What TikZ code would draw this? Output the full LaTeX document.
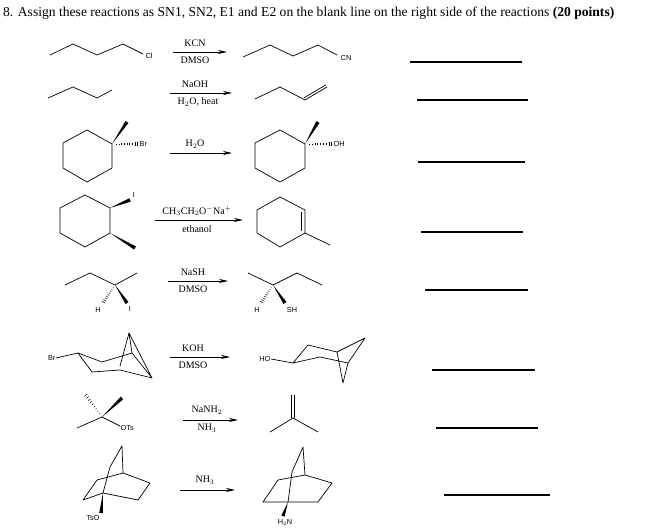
\documentclass[tikz,border=0pt]{standalone}
\usepackage{fontspec}
\setmainfont{Liberation Serif}
\newfontfamily\atomfont{Liberation Sans}
\usetikzlibrary{arrows.meta,calc}

% bond helpers
\newcommand{\wdg}[2]{\fill ($(#1)$) -- ($(#2)!1.8pt!90:(#1)$) -- ($(#2)!1.8pt!-90:(#1)$) -- cycle;}
\newcommand{\hsh}[2]{\foreach \t in {0.15,0.25,...,1.0} {\draw[line width=0.5pt] ($(#1)!\t!(#2)!{\t*1.9pt}!90:(#2)$) -- ($(#1)!\t!(#2)!{\t*1.9pt}!-90:(#2)$);}}

\begin{document}
\begin{tikzpicture}[x=1pt,y=-1pt,
    bond/.style={line width=0.7pt, line join=round},
    atom/.style={font=\atomfont\fontsize{7.3}{8}\selectfont, inner sep=0.5pt},
    reagent/.style={font=\fontsize{10}{11}\selectfont, inner sep=0.5pt},
    rxn/.style={line width=0.7pt, -{Stealth[length=9pt,width=4pt]}},
    blank/.style={line width=1.7pt}
]
\useasboundingbox (0,0) rectangle (659,532);

\node[anchor=west, font=\fontsize{13.6}{15}\selectfont, inner sep=0] (title) at (3,13)
  {8. Assign these reactions as SN1, SN2, E1 and E2 on the blank line on the right side of the reactions \textbf{(20 points)}};

% row 1
\draw[bond] (50,55) -- (73,44) -- (97,55) -- (123,44) -- (143,54);
\node[atom] (cl) at (149,56) {Cl};
\coordinate (a1s) at (173,52); \coordinate (a1e) at (227,52);
\draw[rxn] (a1s) -- (a1e);
\node[reagent] (kcn) at (195,43) {KCN};
\node[reagent] (dmso1) at (195,60) {DMSO};
\draw[bond] (243,57) -- (270,45) -- (293,56) -- (318,45) -- (337,55);
\node[atom] (cn) at (346,58) {CN};

% row 2
\draw[bond] (48,98) -- (73,87) -- (97,98) -- (112,90);
\coordinate (a2s) at (170,93); \coordinate (a2e) at (232,93);
\draw[rxn] (a2s) -- (a2e);
\node[reagent] (naoh) at (195,84) {NaOH};
\node[reagent] (heat) at (198,102) {H$_2$O, heat};
\draw[bond] (255,99) -- (280,87) -- (305,100) -- (327,87);
\draw[bond] ($(305,100)!2.4pt!90:(327,87)$) -- ($(327,87)!2.4pt!-90:(305,100)$);

% row 3
\draw[bond] (63,143) -- (87,130) -- (112,144) -- (112,168) -- (87,182) -- (63,168) -- cycle;
\wdg{112,144}{127,122}
\hsh{112,144}{139,144}
\node[atom, anchor=west] (br1) at (139,144) {Br};
\coordinate (a3s) at (170,153); \coordinate (a3e) at (232,153);
\draw[rxn] (a3s) -- (a3e);
\node[reagent] (h2o) at (195,144) {H$_2$O};
\draw[bond] (255,143) -- (280,130) -- (305,144) -- (305,168) -- (280,182) -- (255,168) -- cycle;
\wdg{305,144}{318,122}
\hsh{305,144}{333,144}
\node[atom, anchor=west] (oh1) at (333,144) {OH};

% row 4
\draw[bond] (60,208) -- (85,195) -- (110,208) -- (110,233) -- (85,247) -- (60,233) -- cycle;
\wdg{110,208}{130,200}
\node[atom] (iod1) at (134,195) {I};
\wdg{110,233}{135,248}
\coordinate (a4s) at (155,220); \coordinate (a4e) at (243,220);
\draw[rxn] (a4s) -- (a4e);
\node[reagent] (etox) at (197,211) {CH$_3$CH$_2$O$^-$Na$^+$};
\node[reagent] (etoh) at (197,229) {ethanol};
\draw[bond] (257,210) -- (280,197) -- (305,210) -- (305,233) -- (280,247) -- (257,233) -- cycle;
\draw[bond] (301,212) -- (301,231);
\draw[bond] (305,233) -- (330,245);

% row 5
\draw[bond] (65,285) -- (90,273) -- (115,285) -- (137,273);
\hsh{115,285}{103,303}
\node[atom] (h1) at (98,310) {H};
\wdg{115,285}{127,303}
\node[atom] (iod2) at (130,309) {I};
\coordinate (a5s) at (168,281); \coordinate (a5e) at (228,281);
\draw[rxn] (a5s) -- (a5e);
\node[reagent] (nash) at (193,272) {NaSH};
\node[reagent] (dmso2) at (193,289) {DMSO};
\draw[bond] (248,273) -- (273,285) -- (297,273) -- (322,285);
\hsh{273,285}{261,303}
\node[atom] (h2) at (257,310) {H};
\wdg{273,285}{285,303}
\node[atom] (sh) at (292,310) {SH};

% row 6
\node[atom, anchor=east] (br2) at (56,358) {Br};
\draw[bond] (56,358) -- (78,353);
\draw[bond] (78,353) -- (102,362) -- (132,353) -- (152,378) -- (129,333) -- (132,353);
\draw[bond] (78,353) -- (92,372) -- (120,370) -- (152,378);
\draw[bond] (129,333) -- (120,366);
\coordinate (a6s) at (170,357); \coordinate (a6e) at (230,357);
\draw[rxn] (a6s) -- (a6e);
\node[reagent] (koh) at (193,348) {KOH};
\node[reagent] (dmso3) at (193,365) {DMSO};
\node[atom, anchor=east] (ho) at (271,359) {HO};
\draw[bond] (271,359) -- (293,363);
\draw[bond] (293,363) -- (308,345) -- (337,352) -- (365,338) -- (348,363) -- (320,357) -- (293,363);
\draw[bond] (337,352) -- (343,383) -- (348,363);

% row 7
\draw[bond] (77,428) -- (102,417) -- (120,426);
\node[atom, anchor=west] (ots) at (120,428) {OTs};
\wdg{102,417}{122,398}
\hsh{102,417}{85,394}
\coordinate (a7s) at (183,420); \coordinate (a7e) at (238,420);
\draw[rxn] (a7s) -- (a7e);
\node[reagent] (nanh2) at (207,410) {NaNH$_2$};
\node[reagent] (nh3a) at (207,428) {NH$_3$};
\draw[bond] (270,432) -- (293,418) -- (318,432);
\draw[bond] (291.5,418) -- (291.5,395);
\draw[bond] (294.5,418) -- (294.5,395);

% row 8
\draw[bond] (103,493) -- (110,467) -- (122,446) -- (123,473) -- (150,483) -- (138,500) -- (103,493);
\draw[bond] (123,473) -- (97,480) -- (83,500) -- (103,493);
\wdg{103,493}{101,513}
\node[atom] (tso) at (93,518) {TsO};
\coordinate (a8s) at (180,490); \coordinate (a8e) at (235,490);
\draw[rxn] (a8s) -- (a8e);
\node[reagent] (nh3b) at (205,480) {NH$_3$};
\draw[bond] (288,502) -- (292,472) -- (303,447) -- (305,475) -- (332,483) -- (318,502) -- (288,502);
\draw[bond] (305,475) -- (278,480) -- (263,502) -- (288,502);
\wdg{288,502}{283,516}
\node[atom] (h2n) at (285,522) {H$_2$N};

% answer lines
\foreach \ya/\xa/\xb [count=\i] in {62/410/522, 100/417/528, 162/418/525, 232/421/523, 290/425/528, 370/432/535, 428/436/538, 495/444/550}
  \draw[blank] (\xa,\ya) -- (\xb,\ya);
\end{tikzpicture}
\end{document}
